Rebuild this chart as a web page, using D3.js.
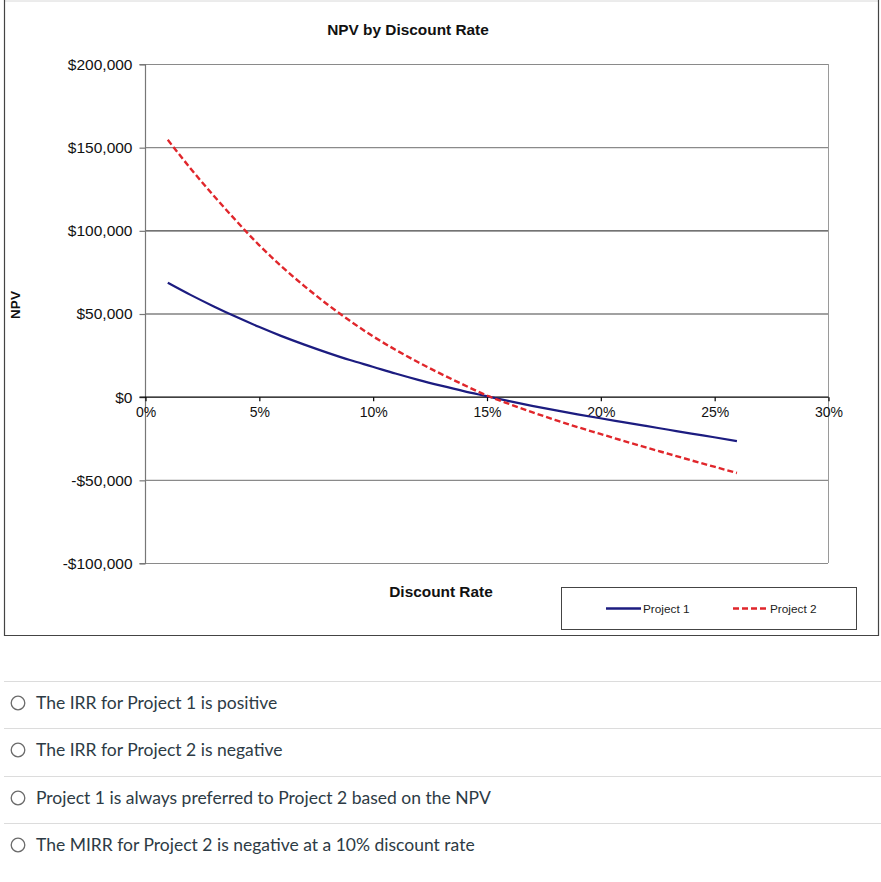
<!DOCTYPE html>
<html>
<head>
<meta charset="utf-8">
<script src="https://d3js.org/d3.v7.min.js"></script>
<style>
  body { margin: 0; background: #fff; }
  svg { display: block; }
  .tick text { font-family: "Liberation Sans", Arial, sans-serif; fill: #111; }
  .options text { font-family: Lato, sans-serif; font-size: 17.5px; fill: #2d3b45; }
</style>
</head>
<body>
<div id="chart"></div>
<script>
  // discount rates (%) and NPVs
  const rates = [1, 2, 3, 4, 5, 6, 7, 8, 9, 10, 11, 12, 13, 14, 15, 16, 17, 18, 19, 20, 21, 22, 23, 24, 25, 26];
  const project1 = [68500, 61200, 54400, 48000, 42000, 36400, 31300, 26500, 22000, 18000,
    13900, 10100, 6600, 3300, 300, -2700, -5500, -8100, -10600, -13000,
    -15300, -17600, -19900, -22200, -24400, -26700];
  const project2 = [154400, 137200, 121100, 105800, 91300, 78300, 66500, 55600, 45600, 36400,
    28200, 20700, 13700, 7100, 800, -4400, -9300, -13900, -18300, -22400,
    -26500, -30500, -34400, -38300, -42100, -45900];
  const yTicks = [-100000, -50000, 0, 50000, 100000, 150000, 200000];
  const xTicks = [0, 5, 10, 15, 20, 25, 30];
  const seriesNames = ["Project 1", "Project 2"];
  const options = [
    "The IRR for Project 1 is positive",
    "The IRR for Project 2 is negative",
    "Project 1 is always preferred to Project 2 based on the NPV",
    "The MIRR for Project 2 is negative at a 10% discount rate"
  ];

  const W = 881, H = 882;
  const svg = d3.select("#chart").append("svg").attr("width", W).attr("height", H);

  const x = d3.scaleLinear().domain([0, 30]).range([145, 828]);
  const y = d3.scaleLinear().domain([-100000, 200000]).range([563, 64]);
  const money = v => (v < 0 ? "-$" : "$") + d3.format(",")(Math.abs(v));

  // outer chart frame
  svg.append("line").attr("x1", 4).attr("x2", 878).attr("y1", 1).attr("y2", 1).attr("stroke", "#d8d8d8");
  svg.append("path").attr("d", "M4.5,0V635.5H878.5V0").attr("fill", "none").attr("stroke", "#444").attr("stroke-width", 1.2);

  // gridlines
  svg.append("g").selectAll("line").data(yTicks.filter(d => d !== 0)).enter().append("line")
    .attr("x1", x(0)).attr("x2", x(30))
    .attr("y1", d => y(d) + 0.5).attr("y2", d => y(d) + 0.5)
    .attr("stroke", d => (d === 50000 || d === 100000) ? "#444" : "#8a8a8a")
    .attr("stroke-width", 1.2);
  // right frame edge
  svg.append("line").attr("x1", x(30) + 0.5).attr("x2", x(30) + 0.5)
    .attr("y1", y(200000)).attr("y2", y(-100000)).attr("stroke", "#9a9a9a");

  // y axis
  const yAxis = svg.append("g").attr("transform", `translate(${x(0) + 0.5},0.5)`)
    .call(d3.axisLeft(y).tickValues(yTicks).tickFormat(money).tickSize(6).tickPadding(7));
  yAxis.selectAll("line, path").attr("stroke", "#777").attr("stroke-width", 1.2);
  yAxis.selectAll("text").attr("font-size", 15.5);
  yAxis.select(".domain").attr("d", `M-6,${y(200000)}H0V${y(-100000)}H-6`);

  // x axis on zero line
  const xAxis = svg.append("g").attr("transform", `translate(0.5,${y(0) + 0.5})`)
    .call(d3.axisBottom(x).tickValues(xTicks).tickFormat(d => d + "%").tickSize(4).tickPadding(6));
  xAxis.selectAll("line, path").attr("stroke", "#000").attr("stroke-width", 1.2);
  xAxis.selectAll("text").attr("font-size", 14);
  xAxis.select(".domain").attr("d", `M${x(0) - 6},0H${x(30)}`);

  // lines
  const line = d3.line().x((d, i) => x(rates[i])).y(d => y(d)).curve(d3.curveMonotoneX);
  svg.append("path").datum(project1).attr("d", line)
    .attr("fill", "none").attr("stroke", "#1c1c80").attr("stroke-width", 2.2);
  svg.append("path").datum(project2).attr("d", line)
    .attr("fill", "none").attr("stroke", "#e0262b").attr("stroke-width", 2.4)
    .attr("stroke-dasharray", "6,3");

  // titles
  const arial = "'Liberation Sans', Arial, sans-serif";
  svg.append("text").attr("x", 408).attr("y", 35).attr("text-anchor", "middle")
    .attr("font-family", arial).attr("font-weight", "bold").attr("font-size", 15.4).attr("fill", "#111")
    .text("NPV by Discount Rate");
  svg.append("text").attr("x", 441).attr("y", 597).attr("text-anchor", "middle")
    .attr("font-family", arial).attr("font-weight", "bold").attr("font-size", 15.4).attr("fill", "#111")
    .text("Discount Rate");
  svg.append("text").attr("transform", "translate(20,305) rotate(-90)").attr("text-anchor", "middle")
    .attr("font-family", arial).attr("font-weight", "bold").attr("font-size", 13.5).attr("fill", "#111")
    .text("NPV");

  // legend
  const lg = svg.append("g");
  lg.append("rect").attr("x", 561.5).attr("y", 587.5).attr("width", 295).attr("height", 42)
    .attr("fill", "#fff").attr("stroke", "#444");
  const legendItems = [
    { name: seriesNames[0], x0: 606, color: "#1c1c80", dash: null },
    { name: seriesNames[1], x0: 733, color: "#e0262b", dash: "6,3" }
  ];
  legendItems.forEach(it => {
    lg.append("line").attr("x1", it.x0).attr("x2", it.x0 + 35).attr("y1", 608.5).attr("y2", 608.5)
      .attr("stroke", it.color).attr("stroke-width", 2.4).attr("stroke-dasharray", it.dash);
    lg.append("text").attr("x", it.x0 + 37).attr("y", 612.5)
      .attr("font-family", arial).attr("font-size", 11.8).attr("fill", "#222").text(it.name);
  });

  // answer options below
  const og = svg.append("g").attr("class", "options");
  const rowTop = [681, 728, 776, 823];
  rowTop.forEach(t => {
    og.append("line").attr("x1", 4).attr("x2", 881).attr("y1", t + 0.5).attr("y2", t + 0.5)
      .attr("stroke", "#dcdcdc").attr("stroke-width", 1.2);
  });
  options.forEach((txt, i) => {
    const cy = rowTop[i] + 22;
    og.append("circle").attr("cx", 18).attr("cy", cy).attr("r", 6.8)
      .attr("fill", "#fff").attr("stroke", "#6b6b6b").attr("stroke-width", 1.3);
    og.append("text").attr("x", 36).attr("y", cy + 6).text(txt);
  });
</script>
</body>
</html>
